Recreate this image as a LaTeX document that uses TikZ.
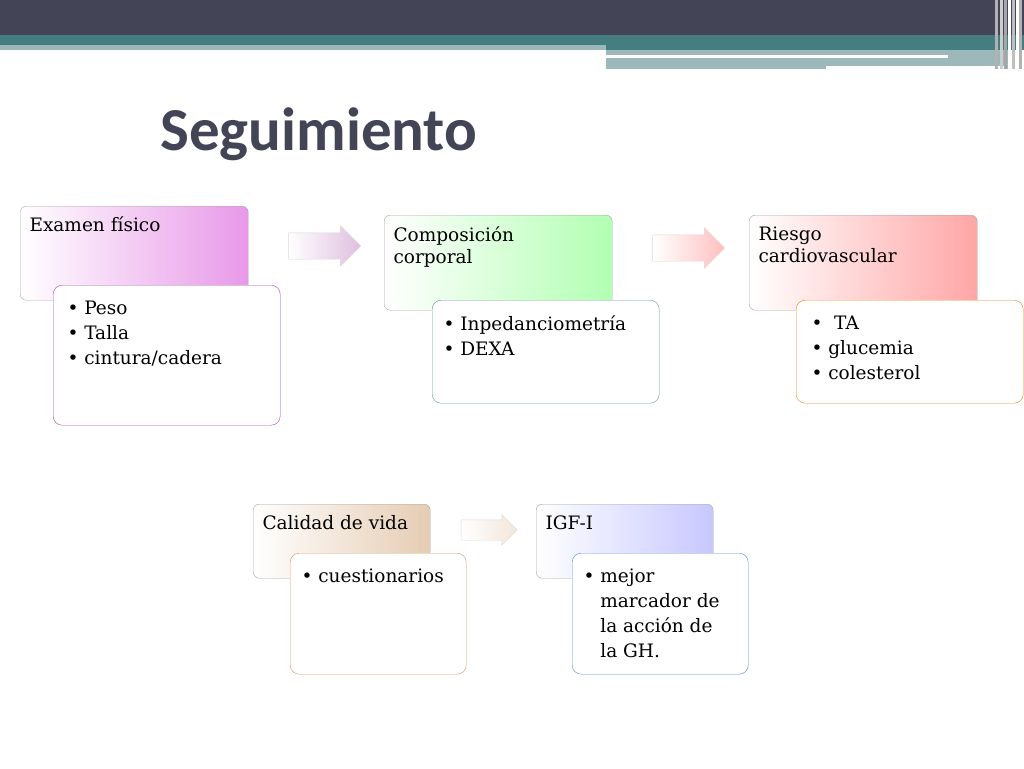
\documentclass[tikz,border=0pt]{standalone}
\usepackage{fontspec}
\setmainfont{DejaVu Serif}
\newfontfamily\titlefont{Carlito}
\usetikzlibrary{shapes.arrows}
\definecolor{dark}{HTML}{434456}
\definecolor{tealc}{HTML}{447E80}
\definecolor{lteal}{HTML}{9DB8BA}
\begin{document}
\begin{tikzpicture}[x=1pt,y=-1pt,
  top/.style={draw=gray!70,rounded corners=6pt,anchor=north west,minimum width=#1},
  sub/.style={draw=#1,fill=white,rounded corners=9pt,anchor=north west,inner sep=0pt},
  lbl/.style={anchor=north west,align=left,font=\fontsize{18.5}{22}\selectfont},
  itm/.style={anchor=north west,align=left,font=\fontsize{18.5}{25}\selectfont},
  arr/.style={single arrow,single arrow head extend=7pt,minimum height=#1,inner xsep=0pt,inner ysep=13pt,draw=gray!30}]
\useasboundingbox (0,0) rectangle (1024,768);
\fill[white] (0,0) rectangle (1024,768);
% header
\fill[dark] (0,0) rectangle (1024,35);
\fill[tealc] (0,35) rectangle (1024,50);
\fill[lteal] (0,45) rectangle (606,50);
\fill[lteal] (606,50) rectangle (1010,69);
\fill[white] (606,55) rectangle (948,58);
\fill[white] (826,66) rectangle (1005,70);
\foreach \x/\c in {995/gray!60,1000/gray!40,1004/gray!70,1008/white,1012/gray!50,1016/white,1019/gray!60}
  \fill[\c] (\x,0) rectangle (\x+2.5,69);
\node[anchor=base west,text=dark,inner sep=0pt,font=\titlefont\bfseries\fontsize{61}{61}\selectfont] (title) at (160,150) {Seguimiento};
% row 1
\node[top=228pt,minimum height=94pt,left color=white,right color=violet!45!magenta!40] (a1) at (20,206) {};
\node[lbl] (a1t) at (26,213) {Examen físico};
\node[sub=violet!70,minimum width=227pt,minimum height=140pt] (a2) at (53,285) {};
\node[itm] (a2t) at (64,297) {• Peso\\• Talla\\• cintura/cadera};
\node[arr=72pt,left color=white,right color=violet!25] (ar1) at (318,246) {};

\node[top=228pt,minimum height=95pt,left color=white,right color=green!30] (b1) at (384,215) {};
\node[lbl] (b1t) at (390,223) {Composición\\corporal};
\node[sub=tealc!80,minimum width=227pt,minimum height=103pt] (b2) at (432,300) {};
\node[itm] (b2t) at (440,312) {• Inpedanciometría\\• DEXA};
\node[arr=72pt,left color=white,right color=red!25] (ar2) at (682,248) {};

\node[top=228pt,minimum height=95pt,left color=white,right color=red!35] (c1) at (749,215) {};
\node[lbl] (c1t) at (755,223) {Riesgo\\cardiovascular};
\node[sub=orange!70!brown,minimum width=227pt,minimum height=103pt] (c2) at (796,300) {};
\node[itm] (c2t) at (808,312) {•\ \ TA\\• glucemia\\• colesterol};
% row 2
\node[top=177pt,minimum height=74pt,left color=white,right color=brown!40] (d1) at (253,504) {};
\node[lbl] (d1t) at (259,512) {Calidad de vida};
\node[sub=brown!80,minimum width=176pt,minimum height=121pt] (d2) at (290,553) {};
\node[itm] (d2t) at (298,565) {• cuestionarios};
\node[arr=56pt,inner ysep=10pt,single arrow head extend=5pt,left color=white,right color=brown!20] (ar3) at (484,530) {};

\node[top=177pt,minimum height=74pt,left color=white,right color=blue!22] (e1) at (536,504) {};
\node[lbl] (e1t) at (542,512) {IGF-I};
\node[sub=cyan!50!blue!70,minimum width=176pt,minimum height=121pt] (e2) at (572,553) {};
\node[itm] (e2t) at (580,565) {• mejor\\\phantom{• }marcador de\\\phantom{• }la acción de\\\phantom{• }la GH.};
\end{tikzpicture}
\end{document}
